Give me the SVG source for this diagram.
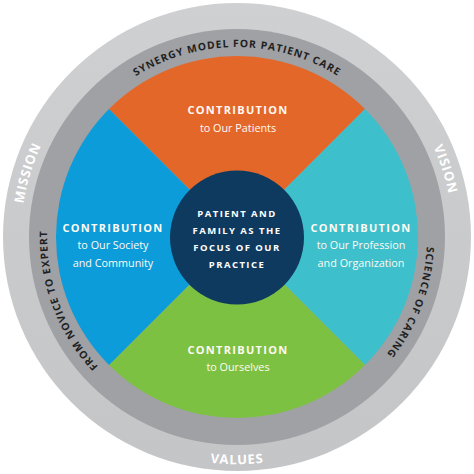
<svg xmlns="http://www.w3.org/2000/svg" width="474" height="474" viewBox="0 0 474 474">
  <defs>
    <linearGradient id="outerGrad" x1="0" y1="0" x2="0" y2="1">
      <stop offset="0" stop-color="#cfd0d2"/>
      <stop offset="1" stop-color="#c4c5c7"/>
    </linearGradient>
    <path id="pSynergy" d="M49.9,204 A190,190 0 0 1 424.1,204"/>
    <path id="pNovice" d="M271.6,423.8 A190,190 0 0 1 140.6,73.3"/>
    <path id="pScience" d="M333.7,73.5 A190,190 0 0 1 202,423.8"/>
    <path id="pMission" d="M138.9,429.5 A216,216 0 0 1 263.3,22.6"/>
    <path id="pVision" d="M206.9,23.1 A216,216 0 0 1 338.4,427.7"/>
    <path id="pValues" d="M13.4,276.4 A227,227 0 0 0 460.6,276.4"/>
  </defs>
  <style>
    .ringDark { font-family: "Open Sans", "DejaVu Sans", sans-serif; font-weight: 700; font-size: 10.3px; letter-spacing: 0.95px; fill: #1e1f22; }
    .ringLight { font-family: "Open Sans", "DejaVu Sans", sans-serif; font-weight: 700; font-size: 13px; letter-spacing: 0.8px; fill: #ffffff; }
    .head { font-family: "Open Sans", "DejaVu Sans", sans-serif; font-weight: 700; font-size: 11px; letter-spacing: 1.3px; fill: #fffaf2; text-anchor: middle; }
    .sub { font-family: "Open Sans", "DejaVu Sans", sans-serif; font-weight: 400; font-size: 10.8px; fill: #fffaf2; text-anchor: middle; }
    .core { font-family: "Open Sans", "DejaVu Sans", sans-serif; font-weight: 700; font-size: 9.5px; letter-spacing: 1.45px; fill: #ffffff; text-anchor: middle; }
  </style>
  <rect width="474" height="474" fill="#ffffff"/>

  <g id="outer-ring">
    <circle cx="237" cy="237" r="234" fill="url(#outerGrad)"/>
    <text class="ringLight"><textPath href="#pMission" startOffset="50%" text-anchor="middle">MISSION</textPath></text>
    <text class="ringLight"><textPath href="#pVision" startOffset="50%" text-anchor="middle">VISION</textPath></text>
    <text class="ringLight"><textPath href="#pValues" startOffset="50%" text-anchor="middle">VALUES</textPath></text>
  </g>

  <g id="inner-ring">
    <circle cx="237" cy="237" r="208" fill="#a0a1a4"/>
    <text class="ringDark"><textPath href="#pSynergy" startOffset="50%" text-anchor="middle">SYNERGY MODEL FOR PATIENT CARE</textPath></text>
    <text class="ringDark"><textPath href="#pNovice" startOffset="50%" text-anchor="middle">FROM NOVICE TO EXPERT</textPath></text>
    <text class="ringDark"><textPath href="#pScience" startOffset="50%" text-anchor="middle">SCIENCE OF CARING</textPath></text>
  </g>

  <g id="patients">
    <path d="M237,237 L109,109 A181,181 0 0 1 365,109 Z" fill="#e4672a"/>
    <text class="head" x="238" y="114">CONTRIBUTION</text>
    <text class="sub" x="238" y="132">to Our Patients</text>
  </g>

  <g id="profession">
    <path d="M237,237 L365,109 A181,181 0 0 1 365,365 Z" fill="#3ebfcc"/>
    <text class="head" x="361" y="232">CONTRIBUTION</text>
    <text class="sub" x="361" y="249">to Our Profession</text>
    <text class="sub" x="361" y="267">and Organization</text>
  </g>

  <g id="ourselves">
    <path d="M237,237 L365,365 A181,181 0 0 1 109,365 Z" fill="#7dc143"/>
    <text class="head" x="238" y="354">CONTRIBUTION</text>
    <text class="sub" x="238" y="371">to Ourselves</text>
  </g>

  <g id="society">
    <path d="M237,237 L109,365 A181,181 0 0 1 109,109 Z" fill="#0c9cda"/>
    <text class="head" x="113" y="232">CONTRIBUTION</text>
    <text class="sub" x="113" y="249">to Our Society</text>
    <text class="sub" x="113" y="267">and Community</text>
  </g>

  <g id="focus">
    <circle cx="237" cy="237.5" r="67" fill="#0f3a5f"/>
    <text class="core" x="237" y="217">PATIENT AND</text>
    <text class="core" x="237" y="234">FAMILY AS THE</text>
    <text class="core" x="237" y="251">FOCUS OF OUR</text>
    <text class="core" x="237" y="268">PRACTICE</text>
  </g>

  <g id="connectors"/>
</svg>
